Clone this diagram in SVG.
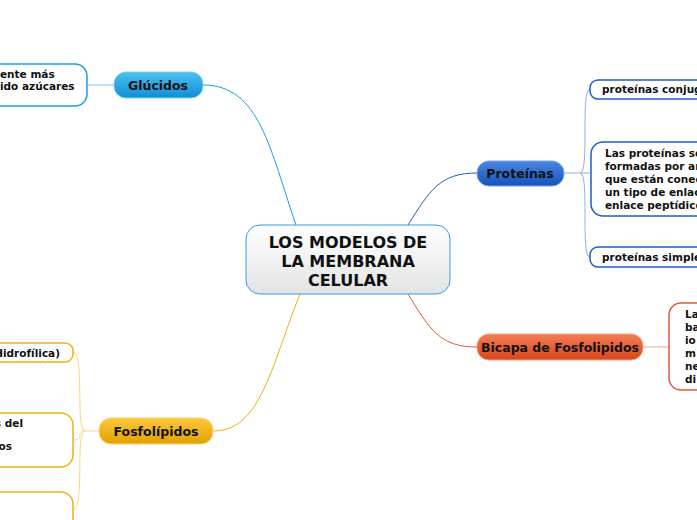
<svg xmlns="http://www.w3.org/2000/svg" width="697" height="520" viewBox="0 0 697 520">
<defs>
<linearGradient id="gb" x1="0" y1="0" x2="0" y2="1"><stop offset="0" stop-color="#4dc0f0"/><stop offset="1" stop-color="#0d8fd6"/></linearGradient>
<linearGradient id="gd" x1="0" y1="0" x2="0" y2="1"><stop offset="0" stop-color="#4a86e0"/><stop offset="1" stop-color="#1553bd"/></linearGradient>
<linearGradient id="go" x1="0" y1="0" x2="0" y2="1"><stop offset="0" stop-color="#f47c55"/><stop offset="1" stop-color="#d9461c"/></linearGradient>
<linearGradient id="gy" x1="0" y1="0" x2="0" y2="1"><stop offset="0" stop-color="#fcc83a"/><stop offset="1" stop-color="#e2a005"/></linearGradient>
<linearGradient id="gc" x1="0" y1="0" x2="0" y2="1"><stop offset="0" stop-color="#ffffff"/><stop offset="1" stop-color="#e2e4e3"/></linearGradient>
</defs>
<style>
text{font-family:"DejaVu Sans",Verdana,sans-serif;font-weight:bold;fill:#111}
.m{font-size:12.5px;text-anchor:middle}
.s{font-size:10.5px}
.c{font-size:16px;text-anchor:middle}
.b{fill:#fff;stroke-width:1.5}
path{fill:none}
</style>
<g id="connectors">
<path d="M296,225 C270,150 260,85 203,85" stroke="#1a9ee0"/>
<path d="M408,225 C430,190 440,173 477,173" stroke="#1a5fc8"/>
<path d="M408,294 C430,330 440,347 477,347" stroke="#e05a33"/>
<path d="M300,294 C270,370 260,431 213,431" stroke="#f0b018"/>
<path d="M87,85 H114" stroke="#7cc8ee"/>
<path d="M564,173 H580 M580,173 C590,173 580,89 590,89 M580,173 H591 M580,173 C590,173 580,257 590,257" stroke="#8fb0e6"/>
<path d="M643,347 H669" stroke="#f4a58a"/>
<path d="M99,431 H85 M85,431 C75,431 85,352 73,352 M85,431 C75,431 85,440 73,440 M85,431 C75,431 85,510 73,510" stroke="#fad67c"/>
</g>
<g id="center"><rect x="246" y="225" width="204" height="69" rx="14" fill="url(#gc)" stroke="#3a9ad9"/>
<text class="c" x="348" y="248">LOS MODELOS DE</text><text class="c" x="348" y="267">LA MEMBRANA</text><text class="c" x="348" y="286">CELULAR</text></g>
<g id="glucidos"><rect x="114" y="72" width="89" height="26" rx="12" fill="url(#gb)" stroke="#7cd0f5"/><text class="m" x="158" y="90">Glúcidos</text></g>
<g id="glucidos-sub"><rect class="b" x="-20" y="64" width="107" height="42" rx="12" stroke="#1a9ee0"/><text class="s" x="0" y="78">ente más</text><text class="s" x="0" y="90">ido azúcares</text></g>
<g id="proteinas"><rect x="477" y="161" width="87" height="25" rx="12" fill="url(#gd)" stroke="#7aa4ea"/><text class="m" x="520" y="178">Proteínas</text></g>
<g id="p1"><rect class="b" x="590" y="80" width="120" height="19" rx="8" stroke="#1a5fc8"/><text class="s" x="602" y="93">proteínas conjugadas</text></g>
<g id="p2"><rect class="b" x="591" y="142" width="120" height="74" rx="12" stroke="#1a5fc8"/>
<text class="s" x="605" y="157">Las proteínas son</text><text class="s" x="605" y="170">formadas por aminoácidos</text><text class="s" x="605" y="183">que están conectados por</text><text class="s" x="605" y="196">un tipo de enlace llamado</text><text class="s" x="605" y="209">enlace peptídico</text></g>
<g id="p3"><rect class="b" x="590" y="247" width="120" height="20" rx="8" stroke="#1a5fc8"/><text class="s" x="602" y="261">proteínas simples</text></g>
<g id="bicapa"><rect x="477" y="334" width="166" height="26" rx="12" fill="url(#go)" stroke="#f7a080"/><text class="m" x="560" y="352">Bicapa de Fosfolipidos</text></g>
<g id="b1"><rect class="b" x="669" y="303" width="50" height="87" rx="12" stroke="#e05a33"/>
<text class="s" x="685" y="318">La</text><text class="s" x="685" y="331">ba</text><text class="s" x="685" y="344">io</text><text class="s" x="685" y="357">m</text><text class="s" x="685" y="370">ne</text><text class="s" x="685" y="383">di</text></g>
<g id="fosfolipidos"><rect x="99" y="418" width="114" height="26" rx="12" fill="url(#gy)" stroke="#fbd56a"/><text class="m" x="156" y="436">Fosfolípidos</text></g>
<g id="f1"><rect class="b" x="-20" y="343" width="93" height="19" rx="8" stroke="#f0b018"/><text class="s" x="60" y="357" text-anchor="end">(Hidrofílica)</text></g>
<g id="f2"><rect class="b" x="-20" y="413" width="93" height="54" rx="12" stroke="#f0b018"/><text class="s" x="23" y="427" text-anchor="end">s del</text><text class="s" x="12" y="450" text-anchor="end">os</text></g>
<g id="f3"><rect class="b" x="-20" y="492" width="93" height="40" rx="12" stroke="#f0b018"/></g>
</svg>
